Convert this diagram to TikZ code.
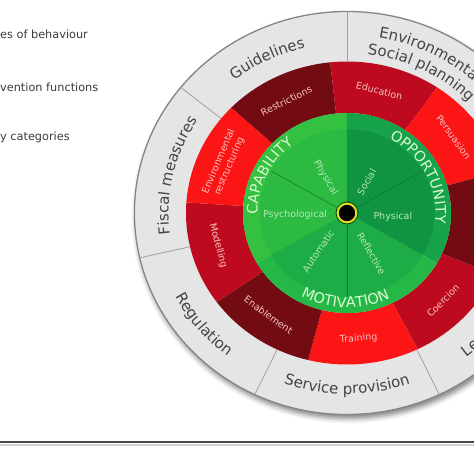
\documentclass[tikz,border=0pt]{standalone}
\usepackage{fontspec}
\setmainfont{DejaVu Sans}
\usetikzlibrary{decorations.text,shadows.blur}

\definecolor{legendtext}{HTML}{3A3A3A}
\definecolor{policygray}{HTML}{E5E5E5}
\definecolor{policyedge}{HTML}{858585}
\definecolor{policyline}{HTML}{A0A0A0}
\definecolor{policytext}{HTML}{444444}
\definecolor{fnmaroon}{HTML}{730B12}
\definecolor{fncrimson}{HTML}{BE0A1F}
\definecolor{fnred}{HTML}{FB1515}
\definecolor{fntext}{HTML}{F7C2C2}
\definecolor{capgreen}{HTML}{34C040}
\definecolor{capinner}{HTML}{2DBA42}
\definecolor{oppgreen}{HTML}{17A349}
\definecolor{oppinner}{HTML}{109443}
\definecolor{motgreen}{HTML}{25B846}
\definecolor{motinner}{HTML}{1DAC46}
\definecolor{srctext}{HTML}{DAF8D6}
\definecolor{subtext}{HTML}{B6E8B2}
\definecolor{sublinecol}{HTML}{0C7A34}
\definecolor{hubyellow}{HTML}{DCDC22}

\newcommand{\policyfont}{\fontsize{15}{15}\selectfont}
\newcommand{\sourcefont}{\fontsize{14.5}{14.5}\selectfont}

\tikzset{
  legendlbl/.style={text=legendtext, font=\fontsize{11.3}{12}\selectfont, inner sep=0pt, anchor=base west},
  fnlabel/.style={text=fntext, font=\fontsize{9.5}{11.5}\selectfont, inner sep=0pt, align=center},
  subsource/.style={text=subtext, font=\fontsize{9.5}{10}\selectfont, inner sep=0pt},
  policyarc/.style={decorate, decoration={text along path, text align=center, text color=policytext, text={|\policyfont|#1}}},
  sourcearc/.style={decorate, decoration={text along path, text align=center, text color=srctext, text={|\sourcefont|#1}}},
  subline/.style={draw=sublinecol, line width=0.6pt},
}

\begin{document}
\begin{tikzpicture}[x=1pt,y=1pt]
\useasboundingbox (-347,-261) rectangle (127,213);
\clip (-347,-261) rectangle (127,213);

% legend, cut at the left edge
\node[legendlbl] (srclbl) at (-347,174) {es of behaviour};
\node[legendlbl] (fnlbl) at (-347,121) {vention functions};
\node[legendlbl] (pollbl) at (-347,72) {y categories};

% rule at the bottom
\draw[line width=2.6pt, color=black!72] (-347,-229) -- (127,-229);
\draw[line width=1.8pt, color=black!18] (-347,-231.8) -- (127,-231.8);

% policy ring
\fill[policygray, draw=policyedge, line width=1.3pt, blur shadow={shadow xshift=2pt, shadow yshift=-4pt, shadow blur radius=5pt, shadow opacity=50}] (0,0) ellipse [x radius=212.6, y radius=201.5];
\foreach \a in {0,...,6}
  \draw[policyline, line width=0.8pt] (90+\a*51.43:161 and 151.5) -- (90+\a*51.43:212.6 and 201.5);

% intervention functions ring
\foreach \a/\c in {96/fnmaroon, 56/fncrimson, 16/fnred, -24/fnmaroon, -64/fncrimson, -104/fnred, -144/fnmaroon, -184/fncrimson, -224/fnred}
  \fill[\c] (\a:161 and 151.5) arc [start angle=\a, end angle=\a+40, x radius=161, y radius=151.5]
    -- (\a+40:104 and 100) arc [start angle=\a+40, end angle=\a, x radius=104, y radius=100] -- cycle;

% sources of behaviour
\fill[capgreen] (0,0) -- (90:104 and 100) arc [start angle=90, end angle=210, x radius=104, y radius=100] -- cycle;
\fill[oppgreen] (0,0) -- (-30:104 and 100) arc [start angle=-30, end angle=90, x radius=104, y radius=100] -- cycle;
\fill[motgreen] (0,0) -- (210:104 and 100) arc [start angle=210, end angle=330, x radius=104, y radius=100] -- cycle;
\fill[capinner] (0,0) -- (90:87.5 and 84) arc [start angle=90, end angle=210, x radius=87.5, y radius=84] -- cycle;
\fill[oppinner] (0,0) -- (-30:87.5 and 84) arc [start angle=-30, end angle=90, x radius=87.5, y radius=84] -- cycle;
\fill[motinner] (0,0) -- (210:87.5 and 84) arc [start angle=210, end angle=330, x radius=87.5, y radius=84] -- cycle;

\node[circle, fill=black, draw=hubyellow, line width=2.4pt, minimum size=19pt, inner sep=0pt] (hub) at (0,0) {};
\draw[black!60!green!60!black, line width=0.7pt] (hub.center) circle [radius=11];
\draw[subline] (hub) -- (150:87.5 and 84);
\draw[subline] (hub) -- (30:87.5 and 84);
\draw[subline] (hub) -- (270:87.5 and 84);

% sub-source labels
\node[subsource] (psych) at (182:52 and 50) {Psychological};
\node[subsource, rotate=-60] (capphys) at (120:43 and 41) {Physical};
\node[subsource, rotate=60] (social) at (59:38 and 36) {Social};
\node[subsource] (oppphys) at (-5:46 and 44) {Physical};
\node[subsource, rotate=-60] (reflect) at (-60:49 and 47) {Reflective};
\node[subsource, rotate=56] (auto) at (234:49 and 47) {Automatic};

% source labels on the band
\path[sourcearc={CAPABILITY}] (200:89.5 and 86) arc [start angle=200, end angle=108, x radius=89.5, y radius=86];
\path[sourcearc={OPPORTUNITY}] (80:88.5 and 85) arc [start angle=80, end angle=-26, x radius=88.5, y radius=85];
\path[sourcearc={MOTIVATION}] (215:98.5 and 94.5) arc [start angle=215, end angle=323, x radius=98.5, y radius=94.5];

% intervention function labels
\node[fnlabel, rotate=26] (restr) at (117:133.5 and 126) {Restrictions};
\node[fnlabel, rotate=-14] (educ) at (76:133.5 and 126) {Education};
\node[fnlabel, rotate=-54] (persu) at (37:133.5 and 126) {Persuasion};
\node[fnlabel, rotate=46] (coerc) at (-44:133.5 and 126) {Coercion};
\node[fnlabel, rotate=5] (train) at (275:133.5 and 126) {Training};
\node[fnlabel, rotate=-36] (enabl) at (234:133.5 and 126) {Enablement};
\node[fnlabel, rotate=-75] (model) at (195:133.5 and 126) {Modelling};
\node[fnlabel, rotate=67] (envr) at (157:133.5 and 126) {Environmental\\restructuring};

% policy category labels
\path[policyarc={Guidelines}] (150:179 and 170) arc [start angle=150, end angle=83, x radius=179, y radius=170];
\path[policyarc={Fiscal measures}] (205:178.5 and 169) arc [start angle=205, end angle=129, x radius=178.5, y radius=169];
\path[policyarc={Environmental}] (105:188 and 178) arc [start angle=105, end angle=21, x radius=188, y radius=178];
\path[policyarc={Social planning}] (108:169 and 160) arc [start angle=108, end angle=18, x radius=169, y radius=160];
\path[policyarc={Regulation}] (185:193 and 183) arc [start angle=185, end angle=253, x radius=193, y radius=183];
\path[policyarc={Service provision}] (226:191 and 181) arc [start angle=226, end angle=314, x radius=191, y radius=181];
\path[policyarc={Legislation}] (285:193 and 183) arc [start angle=285, end angle=357, x radius=193, y radius=183];
\end{tikzpicture}
\end{document}
